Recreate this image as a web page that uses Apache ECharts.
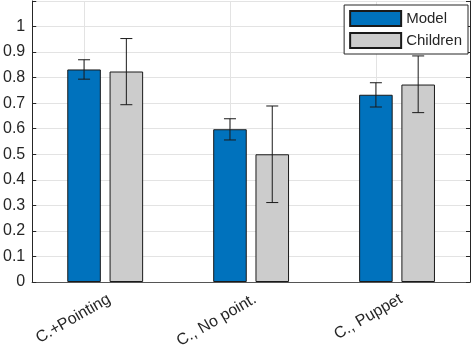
<!DOCTYPE html>
<html><head><meta charset="utf-8">
<script src="https://cdn.jsdelivr.net/npm/echarts@6/dist/echarts.min.js"></script>
<style>html,body{margin:0;padding:0;background:#fff}#c{width:474px;height:356px}</style>
</head><body><div id="c"></div>
<script>
const categories = ['C.+Pointing', 'C., No point.', 'C., Puppet'];
const modelValues = [0.832, 0.598, 0.733];
const modelLow = [0.794, 0.556, 0.685];
const modelHigh = [0.870, 0.639, 0.780];
const childValues = [0.824, 0.500, 0.773];
const childLow = [0.694, 0.311, 0.663];
const childHigh = [0.953, 0.689, 0.885];
const yTicks = [0, 0.1, 0.2, 0.3, 0.4, 0.5, 0.6, 0.7, 0.8, 0.9, 1];

const BW = 0.23, GAP = 0.26;
const font = '"Liberation Sans", Arial, Helvetica, sans-serif';
const axisCol = '#262626';

function errSeries(name, low, high, sign) {
  return {
    type: 'custom', name: name + '_err', silent: true, z: 5,
    data: categories.map((c, i) => [i, low[i], high[i]]),
    encode: { x: 0, y: [1, 2] },
    renderItem: function (params, api) {
      const i = api.value(0);
      const bw = api.size([1, 0])[0];
      const off = sign * (BW * bw * (1 + GAP)) / 2;
      const p1 = api.coord([i, api.value(2)]);
      const p2 = api.coord([i, api.value(1)]);
      const x = p1[0] + off, cap = 6;
      const st = { stroke: '#1a1a1a', lineWidth: 1 };
      return { type: 'group', children: [
        { type: 'line', shape: { x1: x, y1: p1[1], x2: x, y2: p2[1] }, style: st },
        { type: 'line', shape: { x1: x - cap, y1: p1[1], x2: x + cap, y2: p1[1] }, style: st },
        { type: 'line', shape: { x1: x - cap, y1: p2[1], x2: x + cap, y2: p2[1] }, style: st }
      ]};
    }
  };
}

const chart = echarts.init(document.getElementById('c'), null, { renderer: 'canvas' });
chart.setOption({
  animation: false,
  backgroundColor: '#fff',
  grid: { left: 31, right: 4, top: 1, bottom: 74 },
  legend: {
    orient: 'vertical', right: 6, top: 5,
    data: ['Model', 'Children'],
    icon: 'rect',
    itemWidth: 51, itemHeight: 15, itemGap: 5,
    padding: [5, 6, 5, 5],
    backgroundColor: '#fff', borderColor: axisCol, borderWidth: 1,
    textStyle: { fontFamily: font, fontSize: 15, color: axisCol }
  },
  xAxis: [
    { type: 'category', data: categories, position: 'bottom',
      axisLine: { lineStyle: { color: axisCol } },
      axisTick: { alignWithLabel: true, inside: true, length: 4, lineStyle: { color: axisCol } },
      axisLabel: { rotate: 30, align: 'right', verticalAlign: 'top', fontFamily: font, fontSize: 16, color: axisCol, margin: 9 },
      splitLine: { show: false } },
    { type: 'category', data: categories, position: 'top',
      axisLine: { lineStyle: { color: '#555' } },
      axisTick: { alignWithLabel: true, inside: true, length: 4, lineStyle: { color: axisCol } },
      axisLabel: { show: false }, splitLine: { show: false } }
  ],
  yAxis: [
    { type: 'value', min: 0, max: 1.1, interval: 0.1,
      axisLine: { show: true, lineStyle: { color: axisCol } },
      axisTick: { show: true, inside: true, length: 4, lineStyle: { color: axisCol } },
      axisLabel: { fontFamily: font, fontSize: 16, color: axisCol, margin: 7,
        formatter: v => { const t = yTicks.find(k => Math.abs(k - v) < 1e-6); return t === undefined ? '' : String(t); } },
      splitLine: { show: true, lineStyle: { color: '#e3e3e3', width: 1 } } },
    { type: 'value', min: 0, max: 1.1, interval: 0.1, position: 'right',
      axisLine: { show: true, lineStyle: { color: axisCol } },
      axisTick: { show: true, inside: true, length: 4, lineStyle: { color: axisCol } },
      axisLabel: { show: false }, splitLine: { show: false } }
  ],
  series: [
    { type: 'bar', name: 'Model', data: modelValues, barWidth: (BW * 100) + '%', barGap: (GAP * 100) + '%',
      itemStyle: { color: '#0072BD', borderColor: '#1a1a1a', borderWidth: 1 },
      markLine: { silent: true, symbol: 'none', label: { show: false }, z: 0,
        lineStyle: { color: '#e3e3e3', type: 'solid', width: 1 },
        data: categories.map(c => ({ xAxis: c })) } },
    { type: 'bar', name: 'Children', data: childValues, barWidth: (BW * 100) + '%',
      itemStyle: { color: '#cccccc', borderColor: '#1a1a1a', borderWidth: 1 } },
    errSeries('Model', modelLow, modelHigh, -1),
    errSeries('Children', childLow, childHigh, 1)
  ]
});
</script></body></html>
